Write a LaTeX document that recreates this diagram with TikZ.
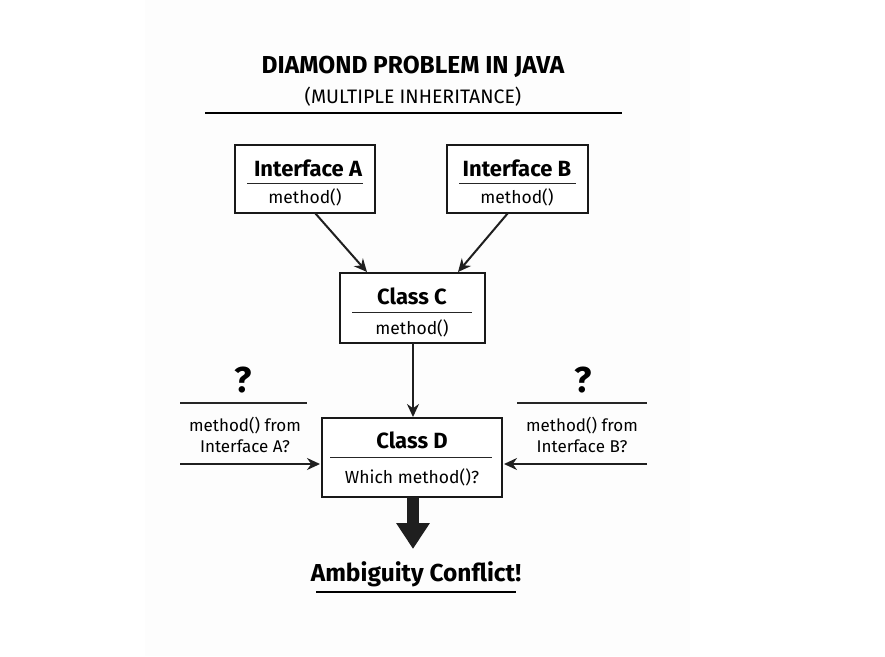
\documentclass[tikz,border=0pt]{standalone}
\usepackage{fontspec}
\setmainfont{Fira Sans}
\usetikzlibrary{arrows.meta}
\begin{document}
\begin{tikzpicture}[x=1pt,y=-1pt,
 box/.style={draw=black!90,line width=2pt,fill=white},
 ttl/.style={font=\bfseries\fontsize{22}{24}\selectfont},
 mth/.style={font=\fontsize{17.5}{20}\selectfont},
 sep/.style={line width=1pt,black!85},
 arr/.style={line width=2pt,black!88,-{Stealth[length=13pt,width=12pt]}},
 lbl/.style={font=\fontsize{17}{21}\selectfont,align=center}]
\useasboundingbox (0,0) rectangle (885,656);
\fill[white] (0,0) rectangle (885,656);
\fill[black!0.8] (145,0) rectangle (690,656);
\node[font=\bfseries\fontsize{24.5}{28}\selectfont] (t1) at (413,67) {DIAMOND PROBLEM IN JAVA};
\node[font=\fontsize{19.5}{22}\selectfont] (t2) at (413,97) {(MULTIPLE INHERITANCE)};
\draw[line width=1.5pt] (205,113) -- (622,113);
% Interface A
\draw[box] (235,145) rectangle (375,213);
\node[ttl] (ia) at (308,168) {Interface A};
\draw[sep] (247,183) -- (363,183);
\node[mth] (iam) at (305,197) {method()};
\coordinate (IAb) at (315,213);
% Interface B
\draw[box] (447,145) rectangle (588,213);
\node[ttl] (ib) at (517,168) {Interface B};
\draw[sep] (459,183) -- (576,183);
\node[mth] (ibm) at (517,197) {method()};
\coordinate (IBb) at (508,213);
% Class C
\draw[box] (340,273) rectangle (485,343);
\node[ttl] (cc) at (412,296) {Class C};
\draw[sep] (352,312) -- (472,312);
\node[mth] (ccm) at (412,328) {method()};
\coordinate (CCl) at (367,272);
\coordinate (CCr) at (458,272);
\coordinate (CCb) at (413,343);
\draw[arr] (IAb) -- (CCl);
\draw[arr] (IBb) -- (CCr);
% Class D
\draw[box] (322,418) rectangle (502,497);
\node[ttl] (cd) at (412,440) {Class D};
\draw[sep] (330,457) -- (492,457);
\node[mth] (cdm) at (412,477) {Which method()?};
\coordinate (CDt) at (413,417);
\coordinate (CDl) at (320,464);
\coordinate (CDr) at (504,464);
\coordinate (CDb) at (413,497);
\draw[arr] (CCb) -- (CDt);
% left
\node[font=\bfseries\fontsize{36}{38}\selectfont] (ql) at (243,380) {?};
\draw[sep,line width=1.2pt] (180,403) -- (307,403);
\node[lbl] (la) at (245,435) {method() from\\Interface A?};
\coordinate (Ls) at (180,464);
\draw[arr] (Ls) -- (CDl);
% right
\node[font=\bfseries\fontsize{36}{38}\selectfont] (qr) at (583,380) {?};
\draw[sep,line width=1.2pt] (517,403) -- (647,403);
\node[lbl] (lb) at (582,435) {method() from\\Interface B?};
\coordinate (Rs) at (647,464);
\draw[arr] (Rs) -- (CDr);
% thick arrow
\node[font=\bfseries\fontsize{24.5}{28}\selectfont] (amb) at (416,574) {Ambiguity Conflict!};
\coordinate (Ae) at (413,549);
\draw[line width=12pt,black!88,-{Triangle[length=26pt,width=32pt]}] (CDb) -- (Ae);
\draw[line width=1.5pt] (316,592) -- (516,592);
\end{tikzpicture}
\end{document}
